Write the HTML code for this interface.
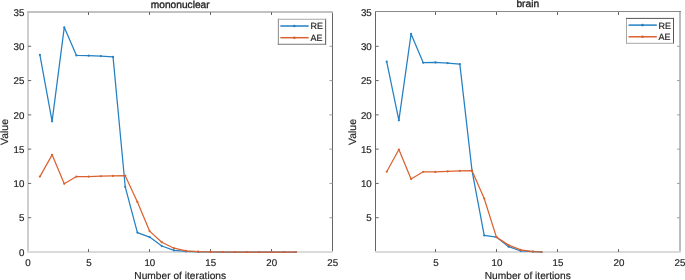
<!DOCTYPE html>
<html><head><meta charset="utf-8"><style>
html,body{margin:0;padding:0;background:#fff;}
body{width:685px;height:280px;overflow:hidden;}
svg{display:block;}
text{font-family:"Liberation Sans",Arial,sans-serif;font-size:10px;fill:#262626;stroke:#262626;stroke-width:0.2px;}
.tk{font-size:9.8px;}
</style></head><body>
<svg width="685" height="280" viewBox="0 0 685 280">
<rect width="685" height="280" fill="#fff"/>
<line x1="28.0" y1="11.0" x2="28.0" y2="253.0" stroke="#cfcfcf" stroke-width="2.0"/>
<line x1="332.5" y1="11.0" x2="332.5" y2="253.0" stroke="#666666" stroke-width="1.0"/>
<line x1="27.0" y1="12.0" x2="333.0" y2="12.0" stroke="#c2c2c2" stroke-width="2.0"/>
<line x1="27.0" y1="252.0" x2="333.0" y2="252.0" stroke="#dadada" stroke-width="2.0"/>
<line x1="88.5" y1="252.0" x2="88.5" y2="249.0" stroke="#666666" stroke-width="1"/>
<line x1="88.5" y1="12.0" x2="88.5" y2="15.0" stroke="#666666" stroke-width="1"/>
<line x1="149.5" y1="252.0" x2="149.5" y2="249.0" stroke="#666666" stroke-width="1"/>
<line x1="149.5" y1="12.0" x2="149.5" y2="15.0" stroke="#666666" stroke-width="1"/>
<line x1="210.5" y1="252.0" x2="210.5" y2="249.0" stroke="#666666" stroke-width="1"/>
<line x1="210.5" y1="12.0" x2="210.5" y2="15.0" stroke="#666666" stroke-width="1"/>
<line x1="271.5" y1="252.0" x2="271.5" y2="249.0" stroke="#666666" stroke-width="1"/>
<line x1="271.5" y1="12.0" x2="271.5" y2="15.0" stroke="#666666" stroke-width="1"/>
<line x1="28.0" y1="217.71" x2="31.2" y2="217.71" stroke="#666666" stroke-width="1"/>
<line x1="332.4" y1="217.71" x2="329.4" y2="217.71" stroke="#a0a0a0" stroke-width="1"/>
<line x1="28.0" y1="183.43" x2="31.2" y2="183.43" stroke="#666666" stroke-width="1"/>
<line x1="332.4" y1="183.43" x2="329.4" y2="183.43" stroke="#a0a0a0" stroke-width="1"/>
<line x1="28.0" y1="149.14" x2="31.2" y2="149.14" stroke="#666666" stroke-width="1"/>
<line x1="332.4" y1="149.14" x2="329.4" y2="149.14" stroke="#a0a0a0" stroke-width="1"/>
<line x1="28.0" y1="114.86" x2="31.2" y2="114.86" stroke="#666666" stroke-width="1"/>
<line x1="332.4" y1="114.86" x2="329.4" y2="114.86" stroke="#a0a0a0" stroke-width="1"/>
<line x1="28.0" y1="80.57" x2="31.2" y2="80.57" stroke="#666666" stroke-width="1"/>
<line x1="332.4" y1="80.57" x2="329.4" y2="80.57" stroke="#a0a0a0" stroke-width="1"/>
<line x1="28.0" y1="46.29" x2="31.2" y2="46.29" stroke="#666666" stroke-width="1"/>
<line x1="332.4" y1="46.29" x2="329.4" y2="46.29" stroke="#a0a0a0" stroke-width="1"/>
<text transform="translate(27.93,265.80) skewX(0.3)" text-anchor="middle" class="tk">0</text>
<text transform="translate(88.90,265.80) skewX(0.3)" text-anchor="middle" class="tk">5</text>
<text transform="translate(149.86,265.80) skewX(0.3)" text-anchor="middle" class="tk">10</text>
<text transform="translate(210.82,265.80) skewX(0.3)" text-anchor="middle" class="tk">15</text>
<text transform="translate(271.79,265.80) skewX(0.3)" text-anchor="middle" class="tk">20</text>
<text transform="translate(332.75,265.80) skewX(0.3)" text-anchor="middle" class="tk">25</text>
<text transform="translate(24.50,255.70) skewX(0.3)" text-anchor="end" class="tk">0</text>
<text transform="translate(24.50,221.41) skewX(0.3)" text-anchor="end" class="tk">5</text>
<text transform="translate(24.50,187.13) skewX(0.3)" text-anchor="end" class="tk">10</text>
<text transform="translate(24.50,152.84) skewX(0.3)" text-anchor="end" class="tk">15</text>
<text transform="translate(24.50,118.56) skewX(0.3)" text-anchor="end" class="tk">20</text>
<text transform="translate(24.50,84.27) skewX(0.3)" text-anchor="end" class="tk">25</text>
<text transform="translate(24.50,49.99) skewX(0.3)" text-anchor="end" class="tk">30</text>
<text transform="translate(24.50,15.70) skewX(0.3)" text-anchor="end" class="tk">35</text>
<text transform="translate(180.20,7.8) skewX(0.3)" text-anchor="middle" style="font-size:10.2px;stroke:#262626;stroke-width:0.35px">mononuclear</text>
<text transform="translate(180.20,279.20) skewX(0.3)" text-anchor="middle" style="font-size:10.2px">Number of iterations</text>
<text transform="translate(7.70,132.00) rotate(-90) skewX(0.3)" text-anchor="middle" style="font-size:10.5px">Value</text>
<polyline points="39.89,54.79 52.08,121.37 64.27,27.36 76.46,55.47 88.65,55.68 100.84,56.09 113.03,56.91 125.22,186.79 137.41,232.59 149.60,237.12 161.79,246.03 173.98,250.42 186.17,251.38 198.36,251.86 210.55,252.00 222.74,252.00 234.93,252.00 247.12,252.00 259.31,252.00 271.50,252.00 283.69,252.00 295.88,252.00" fill="none" stroke="#2480c3" stroke-width="1.25" stroke-linejoin="round"/>
<circle cx="39.89" cy="54.79" r="1.1" fill="#2480c3"/>
<circle cx="52.08" cy="121.37" r="1.1" fill="#2480c3"/>
<circle cx="64.27" cy="27.36" r="1.1" fill="#2480c3"/>
<circle cx="76.46" cy="55.47" r="1.1" fill="#2480c3"/>
<circle cx="88.65" cy="55.68" r="1.1" fill="#2480c3"/>
<circle cx="100.84" cy="56.09" r="1.1" fill="#2480c3"/>
<circle cx="113.03" cy="56.91" r="1.1" fill="#2480c3"/>
<circle cx="125.22" cy="186.79" r="1.1" fill="#2480c3"/>
<circle cx="137.41" cy="232.59" r="1.1" fill="#2480c3"/>
<circle cx="149.60" cy="237.12" r="1.1" fill="#2480c3"/>
<circle cx="161.79" cy="246.03" r="1.1" fill="#2480c3"/>
<circle cx="173.98" cy="250.42" r="1.1" fill="#2480c3"/>
<circle cx="186.17" cy="251.38" r="1.1" fill="#2480c3"/>
<circle cx="198.36" cy="251.86" r="1.1" fill="#2480c3"/>
<circle cx="210.55" cy="252.00" r="1.1" fill="#2480c3"/>
<circle cx="222.74" cy="252.00" r="1.1" fill="#2480c3"/>
<circle cx="234.93" cy="252.00" r="1.1" fill="#2480c3"/>
<circle cx="247.12" cy="252.00" r="1.1" fill="#2480c3"/>
<circle cx="259.31" cy="252.00" r="1.1" fill="#2480c3"/>
<circle cx="271.50" cy="252.00" r="1.1" fill="#2480c3"/>
<circle cx="283.69" cy="252.00" r="1.1" fill="#2480c3"/>
<circle cx="295.88" cy="252.00" r="1.1" fill="#2480c3"/>
<polyline points="39.89,176.57 52.08,154.83 64.27,183.77 76.46,176.57 88.65,176.57 100.84,176.23 113.03,175.89 125.22,175.68 137.41,201.94 149.60,231.09 161.79,242.19 173.98,248.23 186.17,250.83 198.36,251.66 210.55,251.93 222.74,252.00 234.93,252.00 247.12,252.00 259.31,252.00 271.50,252.00 283.69,252.00 295.88,252.00" fill="none" stroke="#da6230" stroke-width="1.25" stroke-linejoin="round"/>
<circle cx="39.89" cy="176.57" r="1.1" fill="#da6230"/>
<circle cx="52.08" cy="154.83" r="1.1" fill="#da6230"/>
<circle cx="64.27" cy="183.77" r="1.1" fill="#da6230"/>
<circle cx="76.46" cy="176.57" r="1.1" fill="#da6230"/>
<circle cx="88.65" cy="176.57" r="1.1" fill="#da6230"/>
<circle cx="100.84" cy="176.23" r="1.1" fill="#da6230"/>
<circle cx="113.03" cy="175.89" r="1.1" fill="#da6230"/>
<circle cx="125.22" cy="175.68" r="1.1" fill="#da6230"/>
<circle cx="137.41" cy="201.94" r="1.1" fill="#da6230"/>
<circle cx="149.60" cy="231.09" r="1.1" fill="#da6230"/>
<circle cx="161.79" cy="242.19" r="1.1" fill="#da6230"/>
<circle cx="173.98" cy="248.23" r="1.1" fill="#da6230"/>
<circle cx="186.17" cy="250.83" r="1.1" fill="#da6230"/>
<circle cx="198.36" cy="251.66" r="1.1" fill="#da6230"/>
<circle cx="210.55" cy="251.93" r="1.1" fill="#da6230"/>
<circle cx="222.74" cy="252.00" r="1.1" fill="#da6230"/>
<circle cx="234.93" cy="252.00" r="1.1" fill="#da6230"/>
<circle cx="247.12" cy="252.00" r="1.1" fill="#da6230"/>
<circle cx="259.31" cy="252.00" r="1.1" fill="#da6230"/>
<circle cx="271.50" cy="252.00" r="1.1" fill="#da6230"/>
<circle cx="283.69" cy="252.00" r="1.1" fill="#da6230"/>
<circle cx="295.88" cy="252.00" r="1.1" fill="#da6230"/>
<rect x="278.35" y="19.25" width="47.30" height="25.00" fill="#fff"/>
<line x1="278.35" y1="18.75" x2="278.35" y2="44.75" stroke="#8a8a8a" stroke-width="1"/>
<line x1="325.65" y1="18.75" x2="325.65" y2="44.75" stroke="#555555" stroke-width="1"/>
<line x1="277.85" y1="19.25" x2="326.15" y2="19.25" stroke="#a8a8a8" stroke-width="1"/>
<line x1="277.85" y1="44.25" x2="326.15" y2="44.25" stroke="#777777" stroke-width="1"/>
<line x1="280.35" y1="26.00" x2="308.65" y2="26.00" stroke="#2480c3" stroke-width="1.5"/>
<circle cx="294.35" cy="26.00" r="1.3" fill="#2480c3"/>
<text transform="translate(310.45,29.40) skewX(0.3)" style="font-size:9px">RE</text>
<line x1="280.35" y1="37.70" x2="308.65" y2="37.70" stroke="#da6230" stroke-width="1.5"/>
<circle cx="294.35" cy="37.70" r="1.3" fill="#da6230"/>
<text transform="translate(310.45,41.10) skewX(0.3)" style="font-size:9px">AE</text>
<line x1="375.5" y1="11.0" x2="375.5" y2="253.0" stroke="#666666" stroke-width="1.0"/>
<line x1="680.0" y1="11.0" x2="680.0" y2="253.0" stroke="#bcbcbc" stroke-width="2.0"/>
<line x1="375.0" y1="11.5" x2="681.0" y2="11.5" stroke="#8a8a8a" stroke-width="1.0"/>
<line x1="375.0" y1="252.0" x2="681.0" y2="252.0" stroke="#dadada" stroke-width="2.0"/>
<line x1="435.5" y1="252.0" x2="435.5" y2="249.0" stroke="#666666" stroke-width="1"/>
<line x1="435.5" y1="12.0" x2="435.5" y2="15.0" stroke="#666666" stroke-width="1"/>
<line x1="496.5" y1="252.0" x2="496.5" y2="249.0" stroke="#666666" stroke-width="1"/>
<line x1="496.5" y1="12.0" x2="496.5" y2="15.0" stroke="#666666" stroke-width="1"/>
<line x1="557.5" y1="252.0" x2="557.5" y2="249.0" stroke="#666666" stroke-width="1"/>
<line x1="557.5" y1="12.0" x2="557.5" y2="15.0" stroke="#666666" stroke-width="1"/>
<line x1="618.5" y1="252.0" x2="618.5" y2="249.0" stroke="#666666" stroke-width="1"/>
<line x1="618.5" y1="12.0" x2="618.5" y2="15.0" stroke="#666666" stroke-width="1"/>
<line x1="375.5" y1="217.71" x2="378.7" y2="217.71" stroke="#666666" stroke-width="1"/>
<line x1="680.0" y1="217.71" x2="677.0" y2="217.71" stroke="#a0a0a0" stroke-width="1"/>
<line x1="375.5" y1="183.43" x2="378.7" y2="183.43" stroke="#666666" stroke-width="1"/>
<line x1="680.0" y1="183.43" x2="677.0" y2="183.43" stroke="#a0a0a0" stroke-width="1"/>
<line x1="375.5" y1="149.14" x2="378.7" y2="149.14" stroke="#666666" stroke-width="1"/>
<line x1="680.0" y1="149.14" x2="677.0" y2="149.14" stroke="#a0a0a0" stroke-width="1"/>
<line x1="375.5" y1="114.86" x2="378.7" y2="114.86" stroke="#666666" stroke-width="1"/>
<line x1="680.0" y1="114.86" x2="677.0" y2="114.86" stroke="#a0a0a0" stroke-width="1"/>
<line x1="375.5" y1="80.57" x2="378.7" y2="80.57" stroke="#666666" stroke-width="1"/>
<line x1="680.0" y1="80.57" x2="677.0" y2="80.57" stroke="#a0a0a0" stroke-width="1"/>
<line x1="375.5" y1="46.29" x2="378.7" y2="46.29" stroke="#666666" stroke-width="1"/>
<line x1="680.0" y1="46.29" x2="677.0" y2="46.29" stroke="#a0a0a0" stroke-width="1"/>
<text transform="translate(435.90,265.80) skewX(0.3)" text-anchor="middle" class="tk">5</text>
<text transform="translate(496.90,265.80) skewX(0.3)" text-anchor="middle" class="tk">10</text>
<text transform="translate(557.90,265.80) skewX(0.3)" text-anchor="middle" class="tk">15</text>
<text transform="translate(618.90,265.80) skewX(0.3)" text-anchor="middle" class="tk">20</text>
<text transform="translate(679.90,265.80) skewX(0.3)" text-anchor="middle" class="tk">25</text>
<text transform="translate(371.80,221.41) skewX(0.3)" text-anchor="end" class="tk">5</text>
<text transform="translate(371.80,187.13) skewX(0.3)" text-anchor="end" class="tk">10</text>
<text transform="translate(371.80,152.84) skewX(0.3)" text-anchor="end" class="tk">15</text>
<text transform="translate(371.80,118.56) skewX(0.3)" text-anchor="end" class="tk">20</text>
<text transform="translate(371.80,84.27) skewX(0.3)" text-anchor="end" class="tk">25</text>
<text transform="translate(371.80,49.99) skewX(0.3)" text-anchor="end" class="tk">30</text>
<text transform="translate(371.80,15.70) skewX(0.3)" text-anchor="end" class="tk">35</text>
<text transform="translate(527.75,6.8) skewX(0.3)" text-anchor="middle" style="font-size:10.2px;stroke:#262626;stroke-width:0.35px">brain</text>
<text transform="translate(527.75,279.20) skewX(0.3)" text-anchor="middle" style="font-size:10.2px">Number of itertions</text>
<text transform="translate(355.70,132.00) rotate(-90) skewX(0.3)" text-anchor="middle" style="font-size:10.5px">Value</text>
<polyline points="386.69,61.71 398.88,120.34 411.07,33.94 423.26,62.74 435.45,62.40 447.64,63.09 459.83,64.11 472.02,170.67 484.21,235.41 496.40,237.12 508.59,246.65 520.78,250.97 532.97,251.52 541.50,252.00" fill="none" stroke="#2480c3" stroke-width="1.25" stroke-linejoin="round"/>
<circle cx="386.69" cy="61.71" r="1.1" fill="#2480c3"/>
<circle cx="398.88" cy="120.34" r="1.1" fill="#2480c3"/>
<circle cx="411.07" cy="33.94" r="1.1" fill="#2480c3"/>
<circle cx="423.26" cy="62.74" r="1.1" fill="#2480c3"/>
<circle cx="435.45" cy="62.40" r="1.1" fill="#2480c3"/>
<circle cx="447.64" cy="63.09" r="1.1" fill="#2480c3"/>
<circle cx="459.83" cy="64.11" r="1.1" fill="#2480c3"/>
<circle cx="472.02" cy="170.67" r="1.1" fill="#2480c3"/>
<circle cx="484.21" cy="235.41" r="1.1" fill="#2480c3"/>
<circle cx="496.40" cy="237.12" r="1.1" fill="#2480c3"/>
<circle cx="508.59" cy="246.65" r="1.1" fill="#2480c3"/>
<circle cx="520.78" cy="250.97" r="1.1" fill="#2480c3"/>
<circle cx="532.97" cy="251.52" r="1.1" fill="#2480c3"/>
<circle cx="541.50" cy="252.00" r="1.1" fill="#2480c3"/>
<polyline points="386.69,171.77 398.88,149.49 411.07,178.97 423.26,171.77 435.45,171.91 447.64,171.43 459.83,170.95 472.02,170.67 484.21,198.51 496.40,237.12 508.59,245.14 520.78,249.94 532.97,251.52 541.50,252.00" fill="none" stroke="#da6230" stroke-width="1.25" stroke-linejoin="round"/>
<circle cx="386.69" cy="171.77" r="1.1" fill="#da6230"/>
<circle cx="398.88" cy="149.49" r="1.1" fill="#da6230"/>
<circle cx="411.07" cy="178.97" r="1.1" fill="#da6230"/>
<circle cx="423.26" cy="171.77" r="1.1" fill="#da6230"/>
<circle cx="435.45" cy="171.91" r="1.1" fill="#da6230"/>
<circle cx="447.64" cy="171.43" r="1.1" fill="#da6230"/>
<circle cx="459.83" cy="170.95" r="1.1" fill="#da6230"/>
<circle cx="472.02" cy="170.67" r="1.1" fill="#da6230"/>
<circle cx="484.21" cy="198.51" r="1.1" fill="#da6230"/>
<circle cx="496.40" cy="237.12" r="1.1" fill="#da6230"/>
<circle cx="508.59" cy="245.14" r="1.1" fill="#da6230"/>
<circle cx="520.78" cy="249.94" r="1.1" fill="#da6230"/>
<circle cx="532.97" cy="251.52" r="1.1" fill="#da6230"/>
<circle cx="541.50" cy="252.00" r="1.1" fill="#da6230"/>
<rect x="626.5" y="18.4" width="47.00" height="24.90" fill="#fff"/>
<line x1="626.5" y1="17.9" x2="626.5" y2="43.8" stroke="#a8a8a8" stroke-width="1"/>
<line x1="673.5" y1="17.9" x2="673.5" y2="43.8" stroke="#555555" stroke-width="1"/>
<line x1="626.0" y1="18.4" x2="674.0" y2="18.4" stroke="#555555" stroke-width="1"/>
<line x1="626.0" y1="43.3" x2="674.0" y2="43.3" stroke="#a8a8a8" stroke-width="1"/>
<line x1="628.50" y1="25.12" x2="656.80" y2="25.12" stroke="#2480c3" stroke-width="1.5"/>
<circle cx="642.50" cy="25.12" r="1.3" fill="#2480c3"/>
<text transform="translate(658.60,28.52) skewX(0.3)" style="font-size:9px">RE</text>
<line x1="628.50" y1="36.78" x2="656.80" y2="36.78" stroke="#da6230" stroke-width="1.5"/>
<circle cx="642.50" cy="36.78" r="1.3" fill="#da6230"/>
<text transform="translate(658.60,40.18) skewX(0.3)" style="font-size:9px">AE</text>
</svg>
</body></html>
